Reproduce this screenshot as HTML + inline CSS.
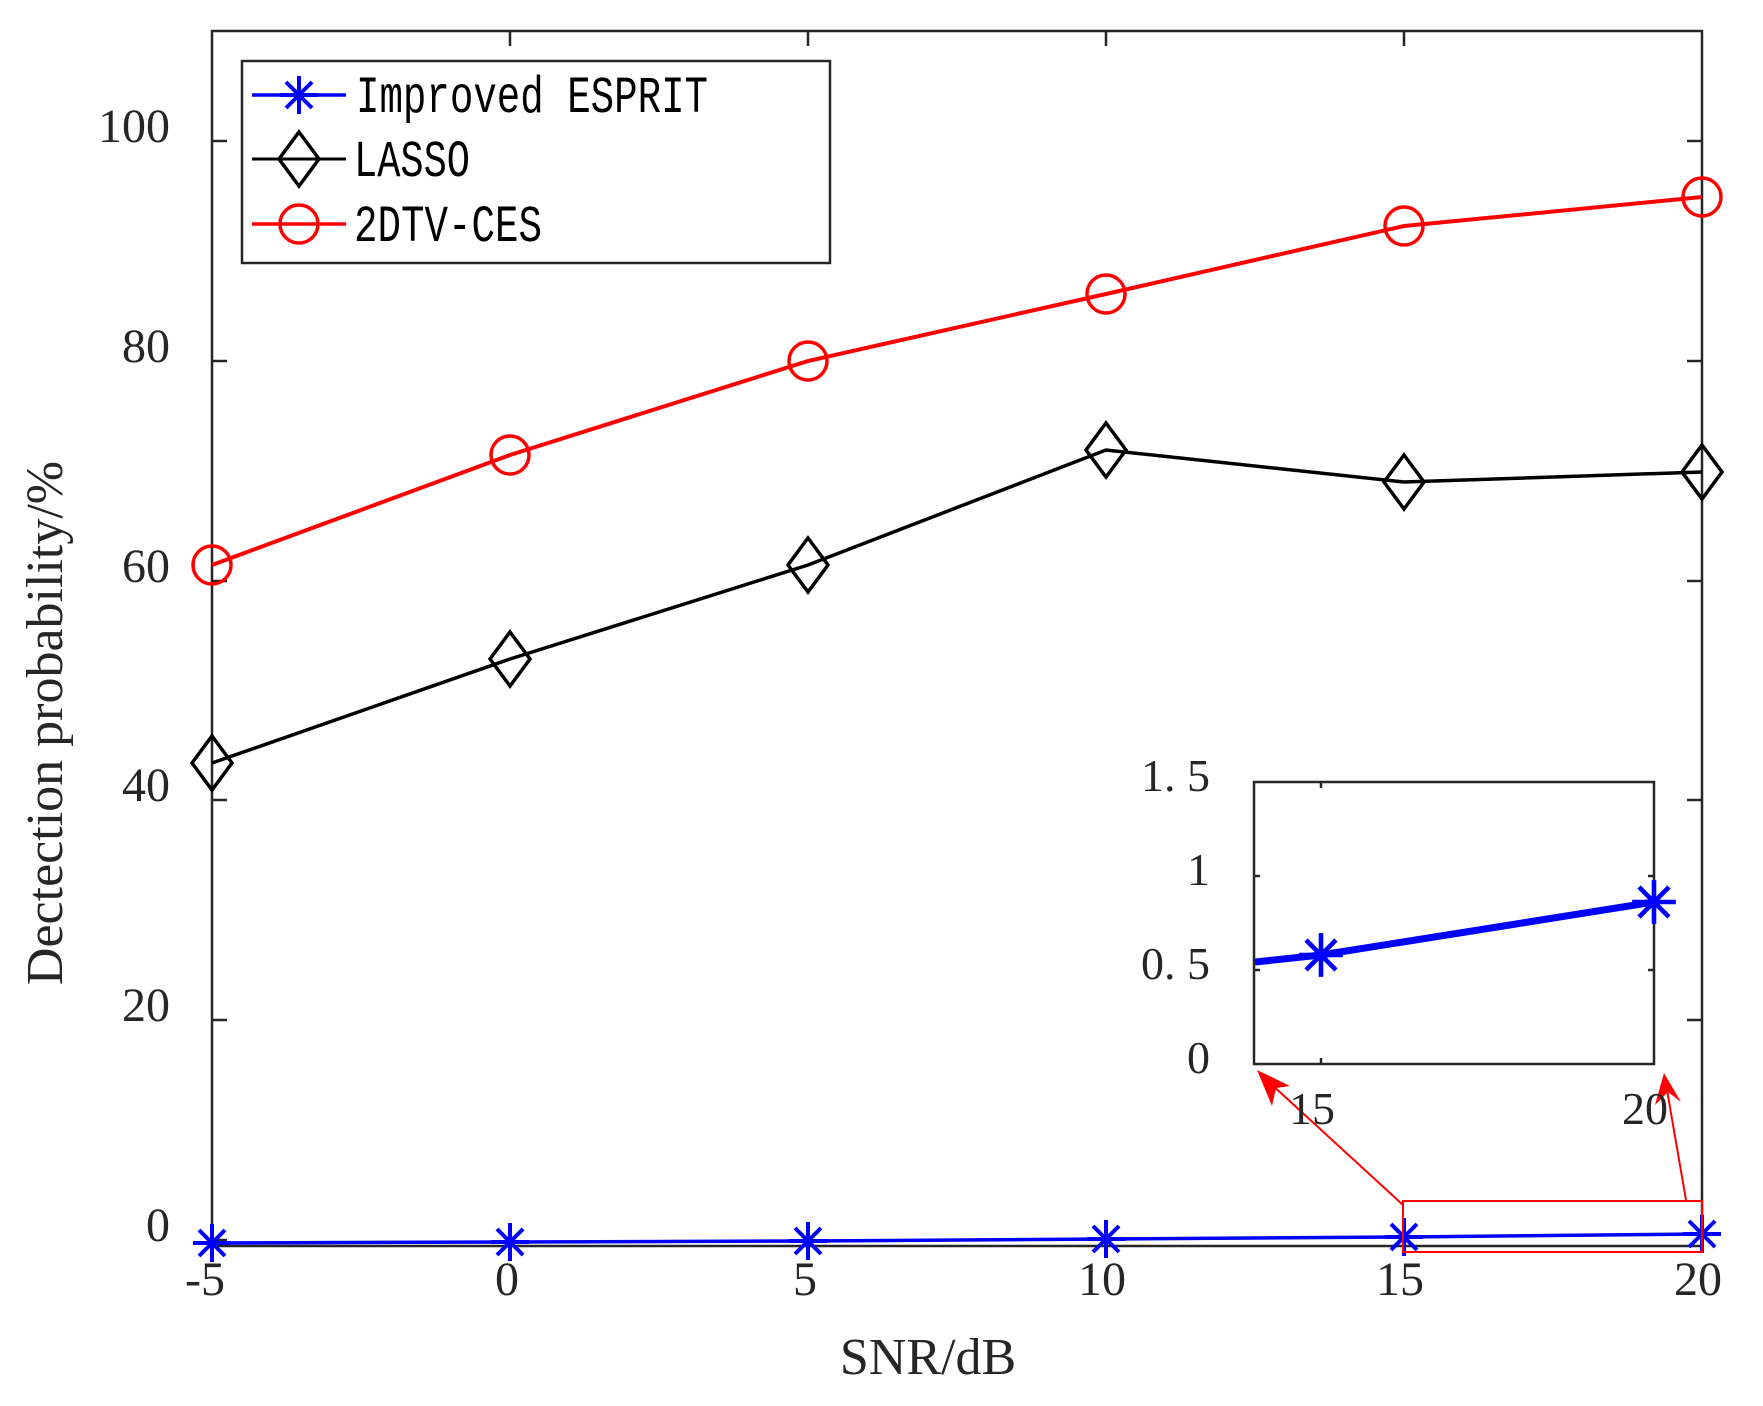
<!DOCTYPE html>
<html><head><meta charset="utf-8"><style>html,body{margin:0;padding:0;background:#fff}svg{display:block}</style></head>
<body>
<svg width="1763" height="1406" viewBox="0 0 1763 1406" xmlns="http://www.w3.org/2000/svg">
<defs>
<g id="star" stroke="#0000ff" stroke-width="4" fill="none">
<line x1="0" y1="-19" x2="0" y2="19"/><line x1="-19" y1="0" x2="19" y2="0"/>
<line x1="-13" y1="-13" x2="13" y2="13"/><line x1="-13" y1="13" x2="13" y2="-13"/>
</g>
<g id="dia"><path d="M0,-27 L20,0 L0,27 L-20,0 Z" fill="none" stroke="#000" stroke-width="3.5"/></g>
<g id="cir"><circle r="19" fill="none" stroke="#ff0000" stroke-width="3.5"/></g>
</defs>
<rect width="1763" height="1406" fill="#fff"/>
<rect x="212" y="31" width="1490" height="1215" fill="none" stroke="#262626" stroke-width="2.5"/>
<g stroke="#262626" stroke-width="2.5">
<line x1="510" y1="1246" x2="510" y2="1231"/><line x1="808" y1="1246" x2="808" y2="1231"/><line x1="1106" y1="1246" x2="1106" y2="1231"/><line x1="1404" y1="1246" x2="1404" y2="1231"/>
<line x1="510" y1="31" x2="510" y2="46"/><line x1="808" y1="31" x2="808" y2="46"/><line x1="1106" y1="31" x2="1106" y2="46"/><line x1="1404" y1="31" x2="1404" y2="46"/>
<line x1="212" y1="1240" x2="227" y2="1240"/><line x1="212" y1="1020" x2="227" y2="1020"/><line x1="212" y1="800" x2="227" y2="800"/><line x1="212" y1="581" x2="227" y2="581"/><line x1="212" y1="361" x2="227" y2="361"/><line x1="212" y1="141" x2="227" y2="141"/>
<line x1="1702" y1="1020" x2="1687" y2="1020"/><line x1="1702" y1="800" x2="1687" y2="800"/><line x1="1702" y1="581" x2="1687" y2="581"/><line x1="1702" y1="361" x2="1687" y2="361"/><line x1="1702" y1="141" x2="1687" y2="141"/>
</g>
<g font-family="Liberation Serif, serif" font-size="48" fill="#262626">
<g text-anchor="end">
<text x="170" y="1241">0</text><text x="170" y="1021">20</text><text x="170" y="801">40</text><text x="170" y="582">60</text><text x="170" y="362">80</text><text x="170" y="142">100</text>
</g>
<g text-anchor="middle">
<text x="205" y="1295">-5</text><text x="507" y="1295">0</text><text x="805" y="1295">5</text><text x="1102" y="1295">10</text><text x="1400" y="1295">15</text><text x="1698" y="1295">20</text>
</g>
<text x="928" y="1374" text-anchor="middle" font-size="52">SNR/dB</text>
<text transform="translate(62,723) rotate(-90)" text-anchor="middle" font-size="52">Dectection probability/%</text>
</g>
<polyline points="212,565 510,455 808,361 1106,294 1404,226 1702,197" fill="none" stroke="#ff0000" stroke-width="4"/>
<polyline points="212,763 510,659 808,565 1106,450 1404,482 1702,472" fill="none" stroke="#000" stroke-width="3.5"/>
<polyline points="212,1243 510,1242 808,1241 1106,1239 1404,1237 1702,1234" fill="none" stroke="#0000ff" stroke-width="3.5"/>
<use href="#cir" x="212" y="565"/><use href="#cir" x="510" y="455"/><use href="#cir" x="808" y="361"/><use href="#cir" x="1106" y="294"/><use href="#cir" x="1404" y="226"/><use href="#cir" x="1702" y="197"/>
<use href="#dia" x="212" y="763"/><use href="#dia" x="510" y="659"/><use href="#dia" x="808" y="565"/><use href="#dia" x="1106" y="450"/><use href="#dia" x="1404" y="482"/><use href="#dia" x="1702" y="472"/>
<use href="#star" x="212" y="1243"/><use href="#star" x="510" y="1242"/><use href="#star" x="808" y="1241"/><use href="#star" x="1106" y="1239"/><use href="#star" x="1404" y="1237"/><use href="#star" x="1702" y="1234"/>
<rect x="242" y="61" width="588" height="202" fill="#fff" stroke="#262626" stroke-width="2.5"/>
<line x1="252" y1="95" x2="346" y2="95" stroke="#0000ff" stroke-width="3.5"/><use href="#star" x="299" y="95"/>
<line x1="252" y1="159" x2="346" y2="159" stroke="#000" stroke-width="3"/><use href="#dia" x="299" y="159"/>
<line x1="252" y1="224" x2="346" y2="224" stroke="#ff0000" stroke-width="3.5"/><use href="#cir" x="299" y="224"/>
<g font-family="Liberation Mono, monospace" font-size="52" fill="#000">
<text x="356" y="112" textLength="352" lengthAdjust="spacingAndGlyphs">Improved ESPRIT</text>
<text x="354" y="176" textLength="116" lengthAdjust="spacingAndGlyphs">LASSO</text>
<text x="354" y="241" textLength="188" lengthAdjust="spacingAndGlyphs">2DTV-CES</text>
</g>
<rect x="1403" y="1201" width="299" height="51" fill="none" stroke="#ff0000" stroke-width="2"/>
<line x1="1403" y1="1205" x2="1270" y2="1083" stroke="#ff0000" stroke-width="2"/>
<polygon points="1257,1070 1290,1086 1276,1088 1272,1106" fill="#ff0000"/>
<line x1="1686" y1="1200" x2="1667" y2="1090" stroke="#ff0000" stroke-width="2"/>
<polygon points="1664,1073 1681,1102 1668,1092 1655,1105" fill="#ff0000"/>
<rect x="1254" y="782" width="400" height="282" fill="#fff" stroke="#262626" stroke-width="2.5"/>
<g stroke="#262626" stroke-width="2.5">
<line x1="1321" y1="1064" x2="1321" y2="1058"/><line x1="1321" y1="782" x2="1321" y2="788"/>
<line x1="1254" y1="970" x2="1260" y2="970"/><line x1="1254" y1="876" x2="1260" y2="876"/>
<line x1="1654" y1="970" x2="1648" y2="970"/><line x1="1654" y1="876" x2="1648" y2="876"/>
</g>
<polyline points="1255,962 1321,955 1654,902" fill="none" stroke="#0000ff" stroke-width="7"/>
<g transform="translate(1321,955) scale(1.15)"><use href="#star"/></g>
<g transform="translate(1654,902) scale(1.15)"><use href="#star"/></g>
<g font-family="Liberation Serif, serif" font-size="46" fill="#262626">
<text x="1210" y="791" text-anchor="end">1. 5</text>
<text x="1210" y="885" text-anchor="end">1</text>
<text x="1210" y="979" text-anchor="end">0. 5</text>
<text x="1210" y="1073" text-anchor="end">0</text>
<text x="1312" y="1124" text-anchor="middle">15</text>
<text x="1645" y="1124" text-anchor="middle">20</text>
</g>
</svg>
</body></html>
